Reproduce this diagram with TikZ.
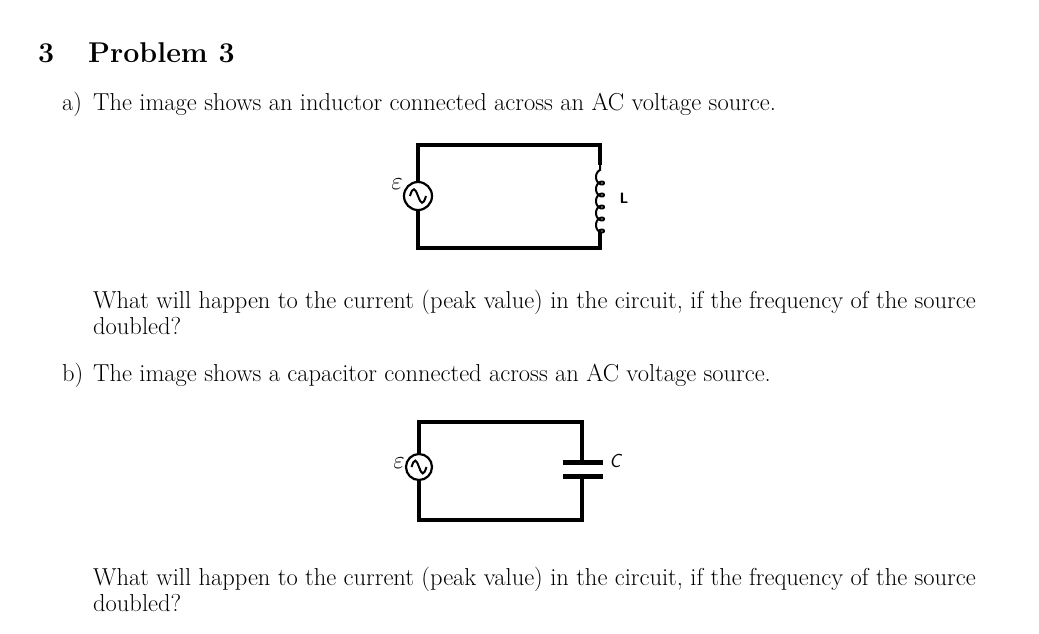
\documentclass[tikz,border=0pt]{standalone}
\usepackage{amsmath}
\begin{document}
\begin{tikzpicture}[x=1pt,y=-1pt,
  txt/.style={anchor=base west,inner sep=0pt,font=\fontsize{24.5}{26}\selectfont},
  wire/.style={line width=3.2pt},
  src/.style={circle,draw,line width=2.2pt,minimum size=28pt,inner sep=0pt}]
\useasboundingbox (0,0) rectangle (1039,633);
\node[txt,font=\fontsize{28.6}{31}\selectfont\bfseries] (n3) at (38,62) {3};
\node[txt,font=\fontsize{28.6}{31}\selectfont\bfseries] (pt) at (88,62) {Problem 3};
\node[txt] (la) at (62,110) {a)};
\node[txt] (ta) at (93,110) {The image shows an inductor connected across an AC voltage source.};
\node[txt] (qa1) at (93,308) {What will happen to the current (peak value) in the circuit, if the frequency of the source};
\node[txt] (qa2) at (93,334) {doubled?};
\node[txt] (lb) at (62,381) {b)};
\node[txt] (tb) at (93,381) {The image shows a capacitor connected across an AC voltage source.};
\node[txt] (qb1) at (93,585) {What will happen to the current (peak value) in the circuit, if the frequency of the source};
\node[txt] (qb2) at (93,611) {doubled?};
% circuit a
\node[src] (sa) at (418,196) {};
\draw[line width=2pt] ([xshift=-8]sa.center) .. controls +(3,-10) and +(-3,-8) .. (sa.center) .. controls +(3,8) and +(-3,10) .. ([xshift=8]sa.center);
\node[font=\fontsize{26}{26}\selectfont] (ea) at (397,184) {$\varepsilon$};
\coordinate (a1) at (418,145); \coordinate (a2) at (600,145);
\coordinate (a3) at (600,248); \coordinate (a4) at (418,248);
\coordinate (ia) at (600,165); \coordinate (ib) at (600,232);
\draw[wire] (sa.north) -- (a1) -- (a2) -- (ia);
\draw[wire] (sa.south) -- (a4) -- (a3) -- (ib);
\draw[line width=2pt] (ia) -- plot[domain=0:1800,samples=200,variable=\t] ({600-4*sin(\t)},{170+\t/30-4*cos(\t)+4}) -- (ib);
\node[font=\sffamily\bfseries\fontsize{15}{15}\selectfont] (L) at (624,198) {L};
% circuit b
\node[src,minimum size=26pt] (sb) at (419,467) {};
\draw[line width=2pt] ([xshift=-7.5]sb.center) .. controls +(3,-9) and +(-3,-8) .. (sb.center) .. controls +(3,8) and +(-3,9) .. ([xshift=7.5]sb.center);
\node[font=\fontsize{26}{26}\selectfont] (eb) at (399,463) {$\varepsilon$};
\coordinate (b1) at (419,422); \coordinate (b2) at (582,422);
\coordinate (b3) at (582,520); \coordinate (b4) at (419,520);
\coordinate (pa) at (582,462); \coordinate (pb) at (582,476);
\draw[wire] (sb.north) -- (b1) -- (b2) -- (pa);
\draw[wire] (sb.south) -- (b4) -- (b3) -- (pb);
\draw[line width=5pt] (563,462) -- (603,462);
\draw[line width=5pt] (563,476) -- (603,476);
\node[font=\sffamily\itshape\fontsize{19}{19}\selectfont] (C) at (615,461) {C};
\end{tikzpicture}
\end{document}
